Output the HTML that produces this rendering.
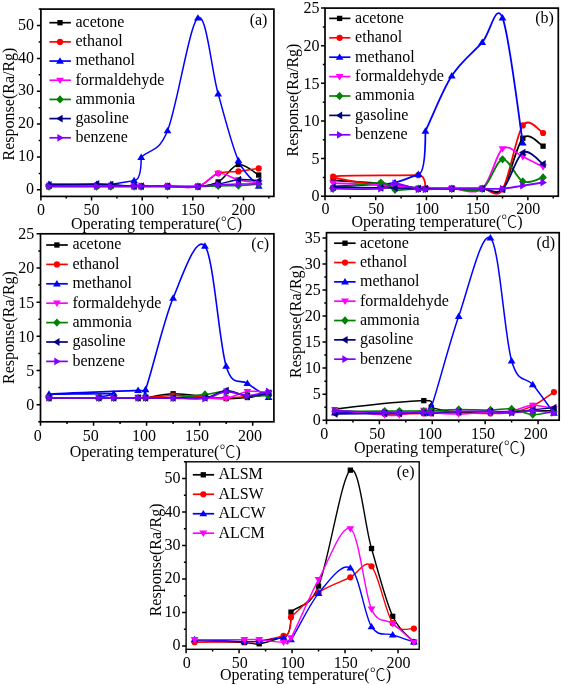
<!DOCTYPE html>
<html><head><meta charset="utf-8"><title>Response vs operating temperature</title>
<style>
html,body{margin:0;padding:0;background:#fff;}
body{width:562px;height:685px;overflow:hidden;}
svg{display:block;}
svg text{font-family:"Liberation Serif", "Noto Serif CJK SC", serif;font-size:16px;fill:#000;}
</style></head><body>
<svg width="562" height="685" viewBox="0 0 562 685">
<rect width="562" height="685" fill="#fff"/>
<path d="M49 186.21C56.94 186.21 86.32 186.21 96.62 186.21C106.92 186.21 104.55 186.21 110.8 186.21C117.05 186.21 129.03 186.21 134.1 186.21C139.17 186.21 135.62 186.21 141.19 186.21C146.76 186.21 158.08 186.16 167.53 186.21C176.99 186.27 189.48 187.25 197.92 186.54C206.36 185.83 211.43 185.61 218.18 181.94C224.94 178.27 231.69 165.68 238.44 164.53C245.2 163.38 255.33 173.29 258.7 175.04" stroke="#000000" stroke-width="1.5" fill="none"/>
<rect x="46.35" y="183.56" width="5.3" height="5.3" fill="#000000"/>
<rect x="93.97" y="183.56" width="5.3" height="5.3" fill="#000000"/>
<rect x="108.15" y="183.56" width="5.3" height="5.3" fill="#000000"/>
<rect x="131.45" y="183.56" width="5.3" height="5.3" fill="#000000"/>
<rect x="138.54" y="183.56" width="5.3" height="5.3" fill="#000000"/>
<rect x="164.88" y="183.56" width="5.3" height="5.3" fill="#000000"/>
<rect x="195.27" y="183.89" width="5.3" height="5.3" fill="#000000"/>
<rect x="215.53" y="179.29" width="5.3" height="5.3" fill="#000000"/>
<rect x="235.79" y="161.88" width="5.3" height="5.3" fill="#000000"/>
<rect x="256.05" y="172.39" width="5.3" height="5.3" fill="#000000"/>
<path d="M49 186.54C56.94 186.54 86.32 186.54 96.62 186.54C106.92 186.54 104.55 186.54 110.8 186.54C117.05 186.54 129.03 186.54 134.1 186.54C139.17 186.54 135.62 186.54 141.19 186.54C146.76 186.54 158.08 186.54 167.53 186.54C176.99 186.54 189.48 188.76 197.92 186.54C206.36 184.32 211.43 175.75 218.18 173.23C224.94 170.71 231.69 172.22 238.44 171.43C245.2 170.63 255.33 168.96 258.7 168.47" stroke="#ff0000" stroke-width="1.5" fill="none"/>
<circle cx="49" cy="186.54" r="3.1" fill="#ff0000"/>
<circle cx="96.62" cy="186.54" r="3.1" fill="#ff0000"/>
<circle cx="110.8" cy="186.54" r="3.1" fill="#ff0000"/>
<circle cx="134.1" cy="186.54" r="3.1" fill="#ff0000"/>
<circle cx="141.19" cy="186.54" r="3.1" fill="#ff0000"/>
<circle cx="167.53" cy="186.54" r="3.1" fill="#ff0000"/>
<circle cx="197.92" cy="186.54" r="3.1" fill="#ff0000"/>
<circle cx="218.18" cy="173.23" r="3.1" fill="#ff0000"/>
<circle cx="238.44" cy="171.43" r="3.1" fill="#ff0000"/>
<circle cx="258.7" cy="168.47" r="3.1" fill="#ff0000"/>
<path d="M49 184.08C56.94 184.11 86.32 184.21 96.62 184.24C106.92 184.27 104.55 184.84 110.8 184.24C117.05 183.64 126.33 181.83 134.1 180.63C139.77 180.63 141.19 170.13 141.19 157.3C149.97 148.42 158.08 153.9 167.53 130.68C176.99 107.46 189.48 24.11 197.92 17.97C206.36 11.84 211.43 70.11 218.18 93.88C224.94 117.65 231.69 145.22 238.44 160.58C245.2 175.94 255.33 181.8 258.7 186.05" stroke="#0000ff" stroke-width="1.5" fill="none"/>
<polygon points="49,180.28 52.9,186.68 45.1,186.68" fill="#0000ff"/>
<polygon points="96.62,180.44 100.52,186.84 92.72,186.84" fill="#0000ff"/>
<polygon points="110.8,180.44 114.7,186.84 106.9,186.84" fill="#0000ff"/>
<polygon points="134.1,176.83 138,183.23 130.2,183.23" fill="#0000ff"/>
<polygon points="141.19,153.5 145.09,159.9 137.29,159.9" fill="#0000ff"/>
<polygon points="167.53,126.88 171.43,133.28 163.63,133.28" fill="#0000ff"/>
<polygon points="197.92,14.17 201.82,20.57 194.02,20.57" fill="#0000ff"/>
<polygon points="218.18,90.08 222.08,96.48 214.28,96.48" fill="#0000ff"/>
<polygon points="238.44,156.78 242.34,163.18 234.54,163.18" fill="#0000ff"/>
<polygon points="258.7,182.25 262.6,188.65 254.8,188.65" fill="#0000ff"/>
<path d="M49 186.54C56.94 186.54 86.32 186.54 96.62 186.54C106.92 186.54 104.55 186.54 110.8 186.54C117.05 186.54 129.03 186.54 134.1 186.54C139.17 186.54 135.62 186.54 141.19 186.54C146.76 186.54 158.08 186.54 167.53 186.54C176.99 186.54 189.48 188.73 197.92 186.54C206.36 184.35 211.43 174.49 218.18 173.4C224.94 172.3 231.69 178.44 238.44 179.97C245.2 181.5 255.33 182.16 258.7 182.6" stroke="#ff00ff" stroke-width="1.5" fill="none"/>
<polygon points="49,190.34 52.9,183.94 45.1,183.94" fill="#ff00ff"/>
<polygon points="96.62,190.34 100.52,183.94 92.72,183.94" fill="#ff00ff"/>
<polygon points="110.8,190.34 114.7,183.94 106.9,183.94" fill="#ff00ff"/>
<polygon points="134.1,190.34 138,183.94 130.2,183.94" fill="#ff00ff"/>
<polygon points="141.19,190.34 145.09,183.94 137.29,183.94" fill="#ff00ff"/>
<polygon points="167.53,190.34 171.43,183.94 163.63,183.94" fill="#ff00ff"/>
<polygon points="197.92,190.34 201.82,183.94 194.02,183.94" fill="#ff00ff"/>
<polygon points="218.18,177.2 222.08,170.8 214.28,170.8" fill="#ff00ff"/>
<polygon points="238.44,183.77 242.34,177.37 234.54,177.37" fill="#ff00ff"/>
<polygon points="258.7,186.4 262.6,180 254.8,180" fill="#ff00ff"/>
<path d="M49 186.54C56.94 186.54 86.32 186.54 96.62 186.54C106.92 186.54 104.55 186.54 110.8 186.54C117.05 186.54 129.03 186.54 134.1 186.54C139.17 186.54 135.62 186.54 141.19 186.54C146.76 186.54 158.08 186.54 167.53 186.54C176.99 186.54 189.48 186.65 197.92 186.54C206.36 186.43 211.43 186.05 218.18 185.88C224.94 185.72 231.69 185.83 238.44 185.56C245.2 185.28 255.33 184.46 258.7 184.24" stroke="#008000" stroke-width="1.5" fill="none"/>
<polygon points="49,182.34 52.8,186.54 49,190.74 45.2,186.54" fill="#008000"/>
<polygon points="96.62,182.34 100.42,186.54 96.62,190.74 92.82,186.54" fill="#008000"/>
<polygon points="110.8,182.34 114.6,186.54 110.8,190.74 107,186.54" fill="#008000"/>
<polygon points="134.1,182.34 137.9,186.54 134.1,190.74 130.3,186.54" fill="#008000"/>
<polygon points="141.19,182.34 144.99,186.54 141.19,190.74 137.39,186.54" fill="#008000"/>
<polygon points="167.53,182.34 171.33,186.54 167.53,190.74 163.73,186.54" fill="#008000"/>
<polygon points="197.92,182.34 201.72,186.54 197.92,190.74 194.12,186.54" fill="#008000"/>
<polygon points="218.18,181.68 221.98,185.88 218.18,190.08 214.38,185.88" fill="#008000"/>
<polygon points="238.44,181.36 242.24,185.56 238.44,189.76 234.64,185.56" fill="#008000"/>
<polygon points="258.7,180.04 262.5,184.24 258.7,188.44 254.9,184.24" fill="#008000"/>
<path d="M49 184.9C56.94 184.73 86.32 183.97 96.62 183.91C106.92 183.86 104.55 184.19 110.8 184.57C117.05 184.95 129.03 185.94 134.1 186.21C139.17 186.49 135.62 186.21 141.19 186.21C146.76 186.21 158.08 186.16 167.53 186.21C176.99 186.27 189.48 186.87 197.92 186.54C206.36 186.21 211.43 185.39 218.18 184.24C224.94 183.09 231.69 180.24 238.44 179.64C245.2 179.04 255.33 180.46 258.7 180.63" stroke="#000080" stroke-width="1.5" fill="none"/>
<polygon points="45.2,184.9 51.6,181 51.6,188.8" fill="#000080"/>
<polygon points="92.82,183.91 99.22,180.01 99.22,187.81" fill="#000080"/>
<polygon points="107,184.57 113.4,180.67 113.4,188.47" fill="#000080"/>
<polygon points="130.3,186.21 136.7,182.31 136.7,190.11" fill="#000080"/>
<polygon points="137.39,186.21 143.79,182.31 143.79,190.11" fill="#000080"/>
<polygon points="163.73,186.21 170.13,182.31 170.13,190.11" fill="#000080"/>
<polygon points="194.12,186.54 200.52,182.64 200.52,190.44" fill="#000080"/>
<polygon points="214.38,184.24 220.78,180.34 220.78,188.14" fill="#000080"/>
<polygon points="234.64,179.64 241.04,175.74 241.04,183.54" fill="#000080"/>
<polygon points="254.9,180.63 261.3,176.73 261.3,184.53" fill="#000080"/>
<path d="M49 186.21C56.94 186.21 86.32 186.21 96.62 186.21C106.92 186.21 104.55 186.21 110.8 186.21C117.05 186.21 129.03 186.21 134.1 186.21C139.17 186.21 135.62 186.21 141.19 186.21C146.76 186.21 158.08 186.16 167.53 186.21C176.99 186.27 189.48 186.82 197.92 186.54C206.36 186.27 211.43 184.98 218.18 184.57C224.94 184.16 231.69 184.24 238.44 184.08C245.2 183.91 255.33 183.67 258.7 183.58" stroke="#8000ff" stroke-width="1.5" fill="none"/>
<polygon points="52.8,186.21 46.4,182.31 46.4,190.11" fill="#8000ff"/>
<polygon points="100.42,186.21 94.02,182.31 94.02,190.11" fill="#8000ff"/>
<polygon points="114.6,186.21 108.2,182.31 108.2,190.11" fill="#8000ff"/>
<polygon points="137.9,186.21 131.5,182.31 131.5,190.11" fill="#8000ff"/>
<polygon points="144.99,186.21 138.59,182.31 138.59,190.11" fill="#8000ff"/>
<polygon points="171.33,186.21 164.93,182.31 164.93,190.11" fill="#8000ff"/>
<polygon points="201.72,186.54 195.32,182.64 195.32,190.44" fill="#8000ff"/>
<polygon points="221.98,184.57 215.58,180.67 215.58,188.47" fill="#8000ff"/>
<polygon points="242.24,184.08 235.84,180.18 235.84,187.98" fill="#8000ff"/>
<polygon points="262.5,183.58 256.1,179.68 256.1,187.48" fill="#8000ff"/>
<path d="M36.9 189.83H40.9M36.9 156.97H40.9M36.9 124.11H40.9M36.9 91.25H40.9M36.9 58.39H40.9M36.9 25.53H40.9M38.7 173.4H40.9M38.7 140.54H40.9M38.7 107.68H40.9M38.7 74.82H40.9M38.7 41.96H40.9M38.7 9.1H40.9M40.9 196.4V200.4M91.55 196.4V200.4M142.2 196.4V200.4M192.86 196.4V200.4M243.51 196.4V200.4M66.23 196.4V198.6M116.88 196.4V198.6M167.53 196.4V198.6M218.18 196.4V198.6M268.83 196.4V198.6" stroke="#000" stroke-width="1.5" fill="none"/>
<rect x="40.9" y="9.1" width="233" height="187.3" fill="none" stroke="#000" stroke-width="1.7"/>
<text x="34.1" y="194.03" text-anchor="end">0</text>
<text x="34.1" y="161.17" text-anchor="end">10</text>
<text x="34.1" y="128.31" text-anchor="end">20</text>
<text x="34.1" y="95.45" text-anchor="end">30</text>
<text x="34.1" y="62.59" text-anchor="end">40</text>
<text x="34.1" y="29.73" text-anchor="end">50</text>
<text x="40.9" y="214.85" text-anchor="middle">0</text>
<text x="91.55" y="214.85" text-anchor="middle">50</text>
<text x="142.2" y="214.85" text-anchor="middle">100</text>
<text x="192.86" y="214.85" text-anchor="middle">150</text>
<text x="243.51" y="214.85" text-anchor="middle">200</text>
<path d="M49.4 22.7H70.9" stroke="#000000" stroke-width="1.7"/>
<rect x="57.35" y="20.05" width="5.3" height="5.3" fill="#000000"/>
<text x="75.5" y="27.1">acetone</text>
<path d="M49.4 41.88H70.9" stroke="#ff0000" stroke-width="1.7"/>
<circle cx="60" cy="41.88" r="3.1" fill="#ff0000"/>
<text x="75.5" y="46.28">ethanol</text>
<path d="M49.4 61.06H70.9" stroke="#0000ff" stroke-width="1.7"/>
<polygon points="60,57.26 63.9,63.66 56.1,63.66" fill="#0000ff"/>
<text x="75.5" y="65.46">methanol</text>
<path d="M49.4 80.24H70.9" stroke="#ff00ff" stroke-width="1.7"/>
<polygon points="60,84.04 63.9,77.64 56.1,77.64" fill="#ff00ff"/>
<text x="75.5" y="84.64">formaldehyde</text>
<path d="M49.4 99.42H70.9" stroke="#008000" stroke-width="1.7"/>
<polygon points="60,95.22 63.8,99.42 60,103.62 56.2,99.42" fill="#008000"/>
<text x="75.5" y="103.82">ammonia</text>
<path d="M49.4 118.6H70.9" stroke="#000080" stroke-width="1.7"/>
<polygon points="56.2,118.6 62.6,114.7 62.6,122.5" fill="#000080"/>
<text x="75.5" y="123">gasoline</text>
<path d="M49.4 137.78H70.9" stroke="#8000ff" stroke-width="1.7"/>
<polygon points="63.8,137.78 57.4,133.88 57.4,141.68" fill="#8000ff"/>
<text x="75.5" y="142.18">benzene</text>
<text x="267.4" y="24.5" text-anchor="end">(a)</text>
<text transform="translate(13.8 104) rotate(-90)" text-anchor="middle">Response(Ra/Rg)</text>
<text x="156.5" y="228.7" text-anchor="middle">Operating temperature(<tspan font-family="'Noto Sans CJK SC', sans-serif" font-weight="300">℃</tspan>)</text>
<path d="M333.11 180.4C341.06 180.9 370.48 182.66 380.79 183.41C391.1 184.16 388.73 184.1 394.99 184.91C401.25 185.73 413.25 187.67 418.32 188.3C423.39 188.93 419.84 188.61 425.42 188.68C431 188.74 442.33 188.68 451.79 188.68C461.26 188.68 473.77 188.55 482.22 188.68C490.68 188.8 495.75 197.83 502.51 189.43C509.27 181.03 516.04 145.48 522.8 138.27C529.56 131.05 539.7 144.85 543.08 146.17" stroke="#000000" stroke-width="1.8" fill="none"/>
<rect x="330.46" y="177.75" width="5.3" height="5.3" fill="#000000"/>
<rect x="378.14" y="180.76" width="5.3" height="5.3" fill="#000000"/>
<rect x="392.34" y="182.26" width="5.3" height="5.3" fill="#000000"/>
<rect x="415.67" y="185.65" width="5.3" height="5.3" fill="#000000"/>
<rect x="422.77" y="186.03" width="5.3" height="5.3" fill="#000000"/>
<rect x="449.14" y="186.03" width="5.3" height="5.3" fill="#000000"/>
<rect x="479.57" y="186.03" width="5.3" height="5.3" fill="#000000"/>
<rect x="499.86" y="186.78" width="5.3" height="5.3" fill="#000000"/>
<rect x="520.15" y="135.62" width="5.3" height="5.3" fill="#000000"/>
<rect x="540.43" y="143.52" width="5.3" height="5.3" fill="#000000"/>
<path d="M380.79 185.67C383.16 185.98 402.94 189.05 394.99 187.55C387.04 186.04 329.23 178.71 333.11 176.64C337 174.57 389.92 175.63 418.32 175.13C424 175.13 425.42 181.23 425.42 188.68C434.21 188.68 442.33 188.68 451.79 188.68C461.26 188.68 473.77 188.55 482.22 188.68C490.68 188.8 495.75 199.96 502.51 189.43C509.27 178.89 516.04 134.88 522.8 125.47C529.56 116.07 539.7 131.74 543.08 133" stroke="#ff0000" stroke-width="1.8" fill="none"/>
<circle cx="380.79" cy="185.67" r="3.1" fill="#ff0000"/>
<circle cx="394.99" cy="187.55" r="3.1" fill="#ff0000"/>
<circle cx="333.11" cy="176.64" r="3.1" fill="#ff0000"/>
<circle cx="418.32" cy="175.13" r="3.1" fill="#ff0000"/>
<circle cx="425.42" cy="188.68" r="3.1" fill="#ff0000"/>
<circle cx="451.79" cy="188.68" r="3.1" fill="#ff0000"/>
<circle cx="482.22" cy="188.68" r="3.1" fill="#ff0000"/>
<circle cx="502.51" cy="189.43" r="3.1" fill="#ff0000"/>
<circle cx="522.8" cy="125.47" r="3.1" fill="#ff0000"/>
<circle cx="543.08" cy="133" r="3.1" fill="#ff0000"/>
<path d="M333.11 186.42C341.06 186.04 370.48 184.79 380.79 184.16C391.1 183.53 388.73 184.29 394.99 182.66C401.25 181.03 410.54 177.14 418.32 174.38C424 174.38 425.42 154.91 425.42 131.12C434.21 112.68 442.33 90.61 451.79 75.82C461.26 61.02 473.77 51.99 482.22 42.33C490.68 32.68 495.75 1.1 502.51 17.88C509.27 34.66 519.42 122.15 522.8 143.01" stroke="#0000ff" stroke-width="1.8" fill="none"/>
<polygon points="333.11,182.62 337.01,189.02 329.21,189.02" fill="#0000ff"/>
<polygon points="380.79,180.36 384.69,186.76 376.89,186.76" fill="#0000ff"/>
<polygon points="394.99,178.86 398.89,185.26 391.09,185.26" fill="#0000ff"/>
<polygon points="418.32,170.58 422.22,176.98 414.42,176.98" fill="#0000ff"/>
<polygon points="425.42,127.32 429.32,133.72 421.52,133.72" fill="#0000ff"/>
<polygon points="451.79,72.02 455.69,78.42 447.89,78.42" fill="#0000ff"/>
<polygon points="482.22,38.53 486.12,44.93 478.32,44.93" fill="#0000ff"/>
<polygon points="502.51,14.08 506.41,20.48 498.61,20.48" fill="#0000ff"/>
<polygon points="522.8,139.21 526.7,145.61 518.9,145.61" fill="#0000ff"/>
<path d="M333.11 183.03C341.06 183.35 370.48 184.48 380.79 184.91C391.1 185.35 388.73 185.04 394.99 185.67C401.25 186.29 413.25 188.17 418.32 188.68C423.39 189.18 419.84 188.68 425.42 188.68C431 188.68 442.33 188.68 451.79 188.68C461.26 188.68 473.77 195.32 482.22 188.68C490.68 182.03 495.75 154.13 502.51 148.8C509.27 143.47 516.04 153.69 522.8 156.7C529.56 159.71 539.7 165.16 543.08 166.86" stroke="#ff00ff" stroke-width="1.8" fill="none"/>
<polygon points="333.11,186.83 337.01,180.43 329.21,180.43" fill="#ff00ff"/>
<polygon points="380.79,188.71 384.69,182.31 376.89,182.31" fill="#ff00ff"/>
<polygon points="394.99,189.47 398.89,183.07 391.09,183.07" fill="#ff00ff"/>
<polygon points="418.32,192.48 422.22,186.08 414.42,186.08" fill="#ff00ff"/>
<polygon points="425.42,192.48 429.32,186.08 421.52,186.08" fill="#ff00ff"/>
<polygon points="451.79,192.48 455.69,186.08 447.89,186.08" fill="#ff00ff"/>
<polygon points="482.22,192.48 486.12,186.08 478.32,186.08" fill="#ff00ff"/>
<polygon points="502.51,152.6 506.41,146.2 498.61,146.2" fill="#ff00ff"/>
<polygon points="522.8,160.5 526.7,154.1 518.9,154.1" fill="#ff00ff"/>
<polygon points="543.08,170.66 546.98,164.26 539.18,164.26" fill="#ff00ff"/>
<path d="M333.11 188.68C341.06 187.67 370.48 182.47 380.79 182.66C391.1 182.84 388.73 188.8 394.99 189.8C401.25 190.81 413.25 188.86 418.32 188.68C423.39 188.49 419.84 188.68 425.42 188.68C431 188.68 442.33 188.68 451.79 188.68C461.26 188.68 473.77 193.57 482.22 188.68C490.68 183.79 495.75 160.52 502.51 159.33C509.27 158.14 516.04 178.52 522.8 181.53C529.56 184.54 539.7 178.08 543.08 177.39" stroke="#008000" stroke-width="1.8" fill="none"/>
<polygon points="333.11,184.48 336.91,188.68 333.11,192.88 329.31,188.68" fill="#008000"/>
<polygon points="380.79,178.46 384.59,182.66 380.79,186.86 376.99,182.66" fill="#008000"/>
<polygon points="394.99,185.6 398.79,189.8 394.99,194 391.19,189.8" fill="#008000"/>
<polygon points="418.32,184.48 422.12,188.68 418.32,192.88 414.52,188.68" fill="#008000"/>
<polygon points="425.42,184.48 429.22,188.68 425.42,192.88 421.62,188.68" fill="#008000"/>
<polygon points="451.79,184.48 455.59,188.68 451.79,192.88 447.99,188.68" fill="#008000"/>
<polygon points="482.22,184.48 486.02,188.68 482.22,192.88 478.42,188.68" fill="#008000"/>
<polygon points="502.51,155.13 506.31,159.33 502.51,163.53 498.71,159.33" fill="#008000"/>
<polygon points="522.8,177.33 526.6,181.53 522.8,185.73 519,181.53" fill="#008000"/>
<polygon points="543.08,173.19 546.88,177.39 543.08,181.59 539.28,177.39" fill="#008000"/>
<path d="M333.11 187.17C341.06 187.3 370.48 187.8 380.79 187.92C391.1 188.05 388.73 187.8 394.99 187.92C401.25 188.05 413.25 188.55 418.32 188.68C423.39 188.8 419.84 188.68 425.42 188.68C431 188.68 442.33 188.68 451.79 188.68C461.26 188.68 473.77 188.55 482.22 188.68C490.68 188.8 495.75 195.45 502.51 189.43C509.27 183.41 516.04 156.8 522.8 152.56C529.56 148.32 539.7 162.09 543.08 164" stroke="#000080" stroke-width="1.8" fill="none"/>
<polygon points="329.31,187.17 335.71,183.27 335.71,191.07" fill="#000080"/>
<polygon points="376.99,187.92 383.39,184.02 383.39,191.82" fill="#000080"/>
<polygon points="391.19,187.92 397.59,184.02 397.59,191.82" fill="#000080"/>
<polygon points="414.52,188.68 420.92,184.78 420.92,192.58" fill="#000080"/>
<polygon points="421.62,188.68 428.02,184.78 428.02,192.58" fill="#000080"/>
<polygon points="447.99,188.68 454.39,184.78 454.39,192.58" fill="#000080"/>
<polygon points="478.42,188.68 484.82,184.78 484.82,192.58" fill="#000080"/>
<polygon points="498.71,189.43 505.11,185.53 505.11,193.33" fill="#000080"/>
<polygon points="519,152.56 525.4,148.66 525.4,156.46" fill="#000080"/>
<polygon points="539.28,164 545.68,160.1 545.68,167.9" fill="#000080"/>
<path d="M333.11 188.68C341.06 188.68 370.48 189.55 380.79 188.68C391.1 187.8 388.73 183.28 394.99 183.41C401.25 183.53 413.25 188.43 418.32 189.43C423.39 190.43 419.84 189.55 425.42 189.43C431 189.3 442.33 188.8 451.79 188.68C461.26 188.55 473.77 188.68 482.22 188.68C490.68 188.68 495.75 189.18 502.51 188.68C509.27 188.17 516.04 186.69 522.8 185.67C529.56 184.64 539.7 183.03 543.08 182.51" stroke="#8000ff" stroke-width="1.8" fill="none"/>
<polygon points="336.91,188.68 330.51,184.78 330.51,192.58" fill="#8000ff"/>
<polygon points="384.59,188.68 378.19,184.78 378.19,192.58" fill="#8000ff"/>
<polygon points="398.79,183.41 392.39,179.51 392.39,187.31" fill="#8000ff"/>
<polygon points="422.12,189.43 415.72,185.53 415.72,193.33" fill="#8000ff"/>
<polygon points="429.22,189.43 422.82,185.53 422.82,193.33" fill="#8000ff"/>
<polygon points="455.59,188.68 449.19,184.78 449.19,192.58" fill="#8000ff"/>
<polygon points="486.02,188.68 479.62,184.78 479.62,192.58" fill="#8000ff"/>
<polygon points="506.31,188.68 499.91,184.78 499.91,192.58" fill="#8000ff"/>
<polygon points="526.6,185.67 520.2,181.77 520.2,189.57" fill="#8000ff"/>
<polygon points="546.88,182.51 540.48,178.61 540.48,186.41" fill="#8000ff"/>
<path d="M321 196.2H325M321 158.58H325M321 120.96H325M321 83.34H325M321 45.72H325M321 8.1H325M322.8 177.39H325M322.8 139.77H325M322.8 102.15H325M322.8 64.53H325M322.8 26.91H325M325 196.2V200.2M375.72 196.2V200.2M426.43 196.2V200.2M477.15 196.2V200.2M527.87 196.2V200.2M350.36 196.2V198.4M401.08 196.2V198.4M451.79 196.2V198.4M502.51 196.2V198.4M553.23 196.2V198.4" stroke="#000" stroke-width="1.5" fill="none"/>
<rect x="325" y="8.1" width="233.3" height="188.1" fill="none" stroke="#000" stroke-width="1.7"/>
<text x="319.5" y="201.4" text-anchor="end">0</text>
<text x="319.5" y="163.78" text-anchor="end">5</text>
<text x="319.5" y="126.16" text-anchor="end">10</text>
<text x="319.5" y="88.54" text-anchor="end">15</text>
<text x="319.5" y="50.92" text-anchor="end">20</text>
<text x="319.5" y="13.3" text-anchor="end">25</text>
<text x="325.5" y="214.1" text-anchor="middle">0</text>
<text x="376.22" y="214.1" text-anchor="middle">50</text>
<text x="426.93" y="214.1" text-anchor="middle">100</text>
<text x="477.65" y="214.1" text-anchor="middle">150</text>
<text x="528.37" y="214.1" text-anchor="middle">200</text>
<path d="M329.2 18.4H350.4" stroke="#000000" stroke-width="1.7"/>
<rect x="336.95" y="15.75" width="5.3" height="5.3" fill="#000000"/>
<text x="355.1" y="22.8">acetone</text>
<path d="M329.2 37.8H350.4" stroke="#ff0000" stroke-width="1.7"/>
<circle cx="339.6" cy="37.8" r="3.1" fill="#ff0000"/>
<text x="355.1" y="42.2">ethanol</text>
<path d="M329.2 57.2H350.4" stroke="#0000ff" stroke-width="1.7"/>
<polygon points="339.6,53.4 343.5,59.8 335.7,59.8" fill="#0000ff"/>
<text x="355.1" y="61.6">methanol</text>
<path d="M329.2 76.6H350.4" stroke="#ff00ff" stroke-width="1.7"/>
<polygon points="339.6,80.4 343.5,74 335.7,74" fill="#ff00ff"/>
<text x="355.1" y="81">formaldehyde</text>
<path d="M329.2 96H350.4" stroke="#008000" stroke-width="1.7"/>
<polygon points="339.6,91.8 343.4,96 339.6,100.2 335.8,96" fill="#008000"/>
<text x="355.1" y="100.4">ammonia</text>
<path d="M329.2 115.4H350.4" stroke="#000080" stroke-width="1.7"/>
<polygon points="335.8,115.4 342.2,111.5 342.2,119.3" fill="#000080"/>
<text x="355.1" y="119.8">gasoline</text>
<path d="M329.2 134.8H350.4" stroke="#8000ff" stroke-width="1.7"/>
<polygon points="343.4,134.8 337,130.9 337,138.7" fill="#8000ff"/>
<text x="355.1" y="139.2">benzene</text>
<text x="553.9" y="23.2" text-anchor="end">(b)</text>
<text transform="translate(298 100) rotate(-90)" text-anchor="middle">Response(Ra/Rg)</text>
<text x="437.1" y="226.6" text-anchor="middle">Operating temperature(<tspan font-family="'Noto Sans CJK SC', sans-serif" font-weight="300">℃</tspan>)</text>
<path d="M48.99 397.87C57.3 397.87 88.06 397.87 98.85 397.87C109.64 397.87 107.16 397.87 113.7 397.87C120.25 397.87 132.8 397.87 138.1 397.87C143.41 397.87 139.69 398.56 145.53 397.87C151.36 397.19 163.21 394 173.11 393.77C183.02 393.54 196.1 395.71 204.94 396.51C213.78 397.3 219.09 398.39 226.16 398.56C233.23 398.73 240.3 398.37 247.38 397.53C254.45 396.69 265.06 394.17 268.6 393.5" stroke="#000000" stroke-width="1.6" fill="none"/>
<rect x="46.34" y="395.22" width="5.3" height="5.3" fill="#000000"/>
<rect x="96.2" y="395.22" width="5.3" height="5.3" fill="#000000"/>
<rect x="111.05" y="395.22" width="5.3" height="5.3" fill="#000000"/>
<rect x="135.45" y="395.22" width="5.3" height="5.3" fill="#000000"/>
<rect x="142.88" y="395.22" width="5.3" height="5.3" fill="#000000"/>
<rect x="170.46" y="391.12" width="5.3" height="5.3" fill="#000000"/>
<rect x="202.29" y="393.86" width="5.3" height="5.3" fill="#000000"/>
<rect x="223.51" y="395.91" width="5.3" height="5.3" fill="#000000"/>
<rect x="244.73" y="394.88" width="5.3" height="5.3" fill="#000000"/>
<rect x="265.95" y="390.85" width="5.3" height="5.3" fill="#000000"/>
<path d="M48.99 397.87C57.3 397.87 88.06 397.87 98.85 397.87C109.64 397.87 107.16 397.87 113.7 397.87C120.25 397.87 132.8 397.87 138.1 397.87C143.41 397.87 139.69 398.27 145.53 397.87C151.36 397.47 163.21 395.59 173.11 395.48C183.02 395.37 196.1 396.79 204.94 397.19C213.78 397.59 219.09 397.99 226.16 397.87C233.23 397.76 240.3 397.08 247.38 396.51C254.45 395.94 265.06 394.8 268.6 394.45" stroke="#ff0000" stroke-width="1.6" fill="none"/>
<circle cx="48.99" cy="397.87" r="3.1" fill="#ff0000"/>
<circle cx="98.85" cy="397.87" r="3.1" fill="#ff0000"/>
<circle cx="113.7" cy="397.87" r="3.1" fill="#ff0000"/>
<circle cx="138.1" cy="397.87" r="3.1" fill="#ff0000"/>
<circle cx="145.53" cy="397.87" r="3.1" fill="#ff0000"/>
<circle cx="173.11" cy="395.48" r="3.1" fill="#ff0000"/>
<circle cx="204.94" cy="397.19" r="3.1" fill="#ff0000"/>
<circle cx="226.16" cy="397.87" r="3.1" fill="#ff0000"/>
<circle cx="247.38" cy="396.51" r="3.1" fill="#ff0000"/>
<circle cx="268.6" cy="394.45" r="3.1" fill="#ff0000"/>
<path d="M98.85 396.92C101.33 396.39 122.01 394.24 113.7 393.77C105.39 393.3 44.92 394.68 48.99 394.11C53.05 393.54 122.01 391.09 138.1 390.35C154.19 389.61 139.69 405.05 145.53 389.67C151.36 374.29 163.21 321.99 173.11 298.06C183.02 274.13 196.1 234.76 204.94 246.11C213.78 257.45 219.09 343.28 226.16 366.15C233.23 389.02 240.3 378.09 247.38 383.31C254.45 388.53 265.06 395.1 268.6 397.46" stroke="#0000ff" stroke-width="1.6" fill="none"/>
<polygon points="98.85,393.12 102.75,399.52 94.95,399.52" fill="#0000ff"/>
<polygon points="113.7,389.97 117.6,396.37 109.8,396.37" fill="#0000ff"/>
<polygon points="48.99,390.31 52.89,396.71 45.09,396.71" fill="#0000ff"/>
<polygon points="138.1,386.55 142,392.95 134.2,392.95" fill="#0000ff"/>
<polygon points="145.53,385.87 149.43,392.27 141.63,392.27" fill="#0000ff"/>
<polygon points="173.11,294.26 177.01,300.66 169.21,300.66" fill="#0000ff"/>
<polygon points="204.94,242.31 208.84,248.71 201.04,248.71" fill="#0000ff"/>
<polygon points="226.16,362.35 230.06,368.75 222.26,368.75" fill="#0000ff"/>
<polygon points="247.38,379.51 251.28,385.91 243.48,385.91" fill="#0000ff"/>
<polygon points="268.6,393.66 272.5,400.06 264.7,400.06" fill="#0000ff"/>
<path d="M48.99 397.87C57.3 397.87 88.06 397.87 98.85 397.87C109.64 397.87 107.16 397.87 113.7 397.87C120.25 397.87 132.8 397.87 138.1 397.87C143.41 397.87 139.69 397.87 145.53 397.87C151.36 397.87 163.21 397.87 173.11 397.87C183.02 397.87 196.1 397.76 204.94 397.87C213.78 397.99 219.09 399.62 226.16 398.56C233.23 397.5 240.3 392.52 247.38 391.51C254.45 390.51 265.06 392.37 268.6 392.54" stroke="#ff00ff" stroke-width="1.6" fill="none"/>
<polygon points="48.99,401.67 52.89,395.27 45.09,395.27" fill="#ff00ff"/>
<polygon points="98.85,401.67 102.75,395.27 94.95,395.27" fill="#ff00ff"/>
<polygon points="113.7,401.67 117.6,395.27 109.8,395.27" fill="#ff00ff"/>
<polygon points="138.1,401.67 142,395.27 134.2,395.27" fill="#ff00ff"/>
<polygon points="145.53,401.67 149.43,395.27 141.63,395.27" fill="#ff00ff"/>
<polygon points="173.11,401.67 177.01,395.27 169.21,395.27" fill="#ff00ff"/>
<polygon points="204.94,401.67 208.84,395.27 201.04,395.27" fill="#ff00ff"/>
<polygon points="226.16,402.36 230.06,395.96 222.26,395.96" fill="#ff00ff"/>
<polygon points="247.38,395.31 251.28,388.91 243.48,388.91" fill="#ff00ff"/>
<polygon points="268.6,396.34 272.5,389.94 264.7,389.94" fill="#ff00ff"/>
<path d="M48.99 397.87C57.3 397.87 88.06 397.87 98.85 397.87C109.64 397.87 107.16 397.87 113.7 397.87C120.25 397.87 132.8 397.87 138.1 397.87C143.41 397.87 139.69 397.87 145.53 397.87C151.36 397.87 163.21 398.44 173.11 397.87C183.02 397.3 196.1 395.51 204.94 394.45C213.78 393.39 219.09 391.33 226.16 391.51C233.23 391.7 240.3 394.88 247.38 395.55C254.45 396.22 265.06 395.55 268.6 395.55" stroke="#008000" stroke-width="1.6" fill="none"/>
<polygon points="48.99,393.67 52.79,397.87 48.99,402.07 45.19,397.87" fill="#008000"/>
<polygon points="98.85,393.67 102.65,397.87 98.85,402.07 95.05,397.87" fill="#008000"/>
<polygon points="113.7,393.67 117.5,397.87 113.7,402.07 109.9,397.87" fill="#008000"/>
<polygon points="138.1,393.67 141.9,397.87 138.1,402.07 134.3,397.87" fill="#008000"/>
<polygon points="145.53,393.67 149.33,397.87 145.53,402.07 141.73,397.87" fill="#008000"/>
<polygon points="173.11,393.67 176.91,397.87 173.11,402.07 169.31,397.87" fill="#008000"/>
<polygon points="204.94,390.25 208.74,394.45 204.94,398.65 201.14,394.45" fill="#008000"/>
<polygon points="226.16,387.31 229.96,391.51 226.16,395.71 222.36,391.51" fill="#008000"/>
<polygon points="247.38,391.35 251.18,395.55 247.38,399.75 243.58,395.55" fill="#008000"/>
<polygon points="268.6,391.35 272.4,395.55 268.6,399.75 264.8,395.55" fill="#008000"/>
<path d="M48.99 397.87C57.3 397.87 88.06 397.87 98.85 397.87C109.64 397.87 107.16 397.87 113.7 397.87C120.25 397.87 132.8 397.87 138.1 397.87C143.41 397.87 139.69 397.87 145.53 397.87C151.36 397.87 163.21 397.87 173.11 397.87C183.02 397.87 196.1 399.09 204.94 397.87C213.78 396.65 219.09 390.84 226.16 390.56C233.23 390.27 240.3 395.74 247.38 396.16C254.45 396.59 265.06 393.6 268.6 393.09" stroke="#000080" stroke-width="1.6" fill="none"/>
<polygon points="45.19,397.87 51.59,393.97 51.59,401.77" fill="#000080"/>
<polygon points="95.05,397.87 101.45,393.97 101.45,401.77" fill="#000080"/>
<polygon points="109.9,397.87 116.3,393.97 116.3,401.77" fill="#000080"/>
<polygon points="134.3,397.87 140.7,393.97 140.7,401.77" fill="#000080"/>
<polygon points="141.73,397.87 148.13,393.97 148.13,401.77" fill="#000080"/>
<polygon points="169.31,397.87 175.71,393.97 175.71,401.77" fill="#000080"/>
<polygon points="201.14,397.87 207.54,393.97 207.54,401.77" fill="#000080"/>
<polygon points="222.36,390.56 228.76,386.66 228.76,394.46" fill="#000080"/>
<polygon points="243.58,396.16 249.98,392.26 249.98,400.06" fill="#000080"/>
<polygon points="264.8,393.09 271.2,389.19 271.2,396.99" fill="#000080"/>
<path d="M48.99 397.87C57.3 397.87 88.06 397.87 98.85 397.87C109.64 397.87 107.16 397.87 113.7 397.87C120.25 397.87 132.8 397.87 138.1 397.87C143.41 397.87 139.69 397.83 145.53 397.87C151.36 397.92 163.21 398.03 173.11 398.15C183.02 398.26 196.1 399.63 204.94 398.56C213.78 397.49 219.09 392.22 226.16 391.72C233.23 391.22 240.3 395.58 247.38 395.55C254.45 395.51 265.06 392.19 268.6 391.51" stroke="#8000ff" stroke-width="1.6" fill="none"/>
<polygon points="52.79,397.87 46.39,393.97 46.39,401.77" fill="#8000ff"/>
<polygon points="102.65,397.87 96.25,393.97 96.25,401.77" fill="#8000ff"/>
<polygon points="117.5,397.87 111.1,393.97 111.1,401.77" fill="#8000ff"/>
<polygon points="141.9,397.87 135.5,393.97 135.5,401.77" fill="#8000ff"/>
<polygon points="149.33,397.87 142.93,393.97 142.93,401.77" fill="#8000ff"/>
<polygon points="176.91,398.15 170.51,394.25 170.51,402.05" fill="#8000ff"/>
<polygon points="208.74,398.56 202.34,394.66 202.34,402.46" fill="#8000ff"/>
<polygon points="229.96,391.72 223.56,387.82 223.56,395.62" fill="#8000ff"/>
<polygon points="251.18,395.55 244.78,391.65 244.78,399.45" fill="#8000ff"/>
<polygon points="272.4,391.51 266,387.61 266,395.41" fill="#8000ff"/>
<path d="M36.5 404.71H40.5M36.5 370.53H40.5M36.5 336.35H40.5M36.5 302.16H40.5M36.5 267.98H40.5M36.5 233.8H40.5M38.3 421.8H40.5M38.3 387.62H40.5M38.3 353.44H40.5M38.3 319.25H40.5M38.3 285.07H40.5M38.3 250.89H40.5M40.5 421.8V425.8M93.55 421.8V425.8M146.59 421.8V425.8M199.64 421.8V425.8M252.68 421.8V425.8M67.02 421.8V424M120.07 421.8V424M173.11 421.8V424M226.16 421.8V424" stroke="#000" stroke-width="1.5" fill="none"/>
<rect x="40.5" y="233.8" width="233.4" height="188" fill="none" stroke="#000" stroke-width="1.7"/>
<text x="34.3" y="410.11" text-anchor="end">0</text>
<text x="34.3" y="375.93" text-anchor="end">5</text>
<text x="34.3" y="341.75" text-anchor="end">10</text>
<text x="34.3" y="307.56" text-anchor="end">15</text>
<text x="34.3" y="273.38" text-anchor="end">20</text>
<text x="34.3" y="239.2" text-anchor="end">25</text>
<text x="37.8" y="441.45" text-anchor="middle">0</text>
<text x="90.85" y="441.45" text-anchor="middle">50</text>
<text x="143.89" y="441.45" text-anchor="middle">100</text>
<text x="196.94" y="441.45" text-anchor="middle">150</text>
<text x="249.98" y="441.45" text-anchor="middle">200</text>
<path d="M46.2 245H67.8" stroke="#000000" stroke-width="1.7"/>
<rect x="54.25" y="242.35" width="5.3" height="5.3" fill="#000000"/>
<text x="72.4" y="249.4">acetone</text>
<path d="M46.2 264.4H67.8" stroke="#ff0000" stroke-width="1.7"/>
<circle cx="56.9" cy="264.4" r="3.1" fill="#ff0000"/>
<text x="72.4" y="268.8">ethanol</text>
<path d="M46.2 283.8H67.8" stroke="#0000ff" stroke-width="1.7"/>
<polygon points="56.9,280 60.8,286.4 53,286.4" fill="#0000ff"/>
<text x="72.4" y="288.2">methanol</text>
<path d="M46.2 303.2H67.8" stroke="#ff00ff" stroke-width="1.7"/>
<polygon points="56.9,307 60.8,300.6 53,300.6" fill="#ff00ff"/>
<text x="72.4" y="307.6">formaldehyde</text>
<path d="M46.2 322.6H67.8" stroke="#008000" stroke-width="1.7"/>
<polygon points="56.9,318.4 60.7,322.6 56.9,326.8 53.1,322.6" fill="#008000"/>
<text x="72.4" y="327">ammonia</text>
<path d="M46.2 342H67.8" stroke="#000080" stroke-width="1.7"/>
<polygon points="53.1,342 59.5,338.1 59.5,345.9" fill="#000080"/>
<text x="72.4" y="346.4">gasoline</text>
<path d="M46.2 361.4H67.8" stroke="#8000ff" stroke-width="1.7"/>
<polygon points="60.7,361.4 54.3,357.5 54.3,365.3" fill="#8000ff"/>
<text x="72.4" y="365.8">benzene</text>
<text x="269.1" y="249" text-anchor="end">(c)</text>
<text transform="translate(14.3 327.5) rotate(-90)" text-anchor="middle">Response(Ra/Rg)</text>
<text x="155.2" y="457.3" text-anchor="middle">Operating temperature(<tspan font-family="'Noto Sans CJK SC', sans-serif" font-weight="300">℃</tspan>)</text>
<path d="M384.68 413.43C387.14 413.34 407.77 413.52 399.48 412.91C391.2 412.3 330.91 411.83 334.96 409.78C339.02 407.73 407.77 401.02 423.81 400.62C439.85 400.22 425.4 405.51 431.22 407.39C437.03 409.26 448.84 411.12 458.72 411.87C468.59 412.61 481.63 411.87 490.45 411.87C499.26 411.87 504.55 412.04 511.6 411.87C518.65 411.69 525.71 411 532.76 410.82C539.81 410.65 550.39 410.82 553.91 410.82" stroke="#000000" stroke-width="1.5" fill="none"/>
<rect x="382.03" y="410.78" width="5.3" height="5.3" fill="#000000"/>
<rect x="396.83" y="410.26" width="5.3" height="5.3" fill="#000000"/>
<rect x="332.31" y="407.13" width="5.3" height="5.3" fill="#000000"/>
<rect x="421.16" y="397.97" width="5.3" height="5.3" fill="#000000"/>
<rect x="428.57" y="404.74" width="5.3" height="5.3" fill="#000000"/>
<rect x="456.07" y="409.22" width="5.3" height="5.3" fill="#000000"/>
<rect x="487.8" y="409.22" width="5.3" height="5.3" fill="#000000"/>
<rect x="508.95" y="409.22" width="5.3" height="5.3" fill="#000000"/>
<rect x="530.11" y="408.18" width="5.3" height="5.3" fill="#000000"/>
<rect x="551.26" y="408.18" width="5.3" height="5.3" fill="#000000"/>
<path d="M334.96 411.87C343.25 412.21 373.92 413.6 384.68 413.95C395.43 414.3 392.96 414.04 399.48 413.95C406.01 413.86 418.52 413.52 423.81 413.43C429.1 413.34 425.4 413.52 431.22 413.43C437.03 413.34 448.84 412.91 458.72 412.91C468.59 412.91 481.63 413.52 490.45 413.43C499.26 413.34 504.55 413.65 511.6 412.39C518.65 411.13 525.71 409.26 532.76 405.88C539.81 402.49 550.39 394.38 553.91 392.07" stroke="#ff0000" stroke-width="1.5" fill="none"/>
<circle cx="334.96" cy="411.87" r="3.1" fill="#ff0000"/>
<circle cx="384.68" cy="413.95" r="3.1" fill="#ff0000"/>
<circle cx="399.48" cy="413.95" r="3.1" fill="#ff0000"/>
<circle cx="423.81" cy="413.43" r="3.1" fill="#ff0000"/>
<circle cx="431.22" cy="413.43" r="3.1" fill="#ff0000"/>
<circle cx="458.72" cy="412.91" r="3.1" fill="#ff0000"/>
<circle cx="490.45" cy="413.43" r="3.1" fill="#ff0000"/>
<circle cx="511.6" cy="412.39" r="3.1" fill="#ff0000"/>
<circle cx="532.76" cy="405.88" r="3.1" fill="#ff0000"/>
<circle cx="553.91" cy="392.07" r="3.1" fill="#ff0000"/>
<path d="M334.96 412.91C343.25 412.82 373.92 412.47 384.68 412.39C395.43 412.3 392.96 412.47 399.48 412.39C406.01 412.3 418.52 412.7 423.81 411.87C429.1 411.03 425.4 423.32 431.22 407.39C437.03 391.46 448.84 344.54 458.72 316.29C468.59 288.05 481.63 230.49 490.45 237.91C499.26 245.33 504.55 336.38 511.6 360.82C518.65 385.27 525.71 375.85 532.76 384.57C539.81 393.3 550.39 408.4 553.91 413.17" stroke="#0000ff" stroke-width="1.5" fill="none"/>
<polygon points="334.96,409.11 338.86,415.51 331.06,415.51" fill="#0000ff"/>
<polygon points="384.68,408.59 388.57,414.99 380.78,414.99" fill="#0000ff"/>
<polygon points="399.48,408.59 403.38,414.99 395.58,414.99" fill="#0000ff"/>
<polygon points="423.81,408.07 427.71,414.47 419.91,414.47" fill="#0000ff"/>
<polygon points="431.22,403.59 435.12,409.99 427.32,409.99" fill="#0000ff"/>
<polygon points="458.72,312.49 462.62,318.89 454.82,318.89" fill="#0000ff"/>
<polygon points="490.45,234.11 494.35,240.51 486.55,240.51" fill="#0000ff"/>
<polygon points="511.6,357.02 515.5,363.43 507.7,363.43" fill="#0000ff"/>
<polygon points="532.76,380.77 536.66,387.18 528.86,387.18" fill="#0000ff"/>
<polygon points="553.91,409.37 557.81,415.77 550.01,415.77" fill="#0000ff"/>
<path d="M334.96 409.78C343.25 410.65 373.92 414.12 384.68 414.99C395.43 415.86 392.96 415.77 399.48 414.99C406.01 414.21 418.52 410.74 423.81 410.3C429.1 409.87 425.4 411.78 431.22 412.39C437.03 413 448.84 414.04 458.72 413.95C468.59 413.86 481.63 412.39 490.45 411.87C499.26 411.35 504.55 411.91 511.6 410.82C518.65 409.74 525.71 405.7 532.76 405.36C539.81 405.01 550.39 408.18 553.91 408.74" stroke="#ff00ff" stroke-width="1.5" fill="none"/>
<polygon points="334.96,413.58 338.86,407.18 331.06,407.18" fill="#ff00ff"/>
<polygon points="384.68,418.79 388.57,412.39 380.78,412.39" fill="#ff00ff"/>
<polygon points="399.48,418.79 403.38,412.39 395.58,412.39" fill="#ff00ff"/>
<polygon points="423.81,414.1 427.71,407.7 419.91,407.7" fill="#ff00ff"/>
<polygon points="431.22,416.19 435.12,409.79 427.32,409.79" fill="#ff00ff"/>
<polygon points="458.72,417.75 462.62,411.35 454.82,411.35" fill="#ff00ff"/>
<polygon points="490.45,415.67 494.35,409.27 486.55,409.27" fill="#ff00ff"/>
<polygon points="511.6,414.62 515.5,408.22 507.7,408.22" fill="#ff00ff"/>
<polygon points="532.76,409.16 536.66,402.76 528.86,402.76" fill="#ff00ff"/>
<polygon points="553.91,412.54 557.81,406.14 550.01,406.14" fill="#ff00ff"/>
<path d="M334.96 411.35C343.25 411.3 373.92 411.13 384.68 411.09C395.43 411.04 392.96 411.09 399.48 411.09C406.01 411.09 418.52 411.13 423.81 411.09C429.1 411.04 425.4 411.09 431.22 410.82C437.03 410.56 448.84 409.65 458.72 409.52C468.59 409.39 481.63 410.13 490.45 410.04C499.26 409.96 504.55 408.26 511.6 409C518.65 409.74 525.71 414.08 532.76 414.47C539.81 414.86 550.39 411.87 553.91 411.35" stroke="#008000" stroke-width="1.5" fill="none"/>
<polygon points="334.96,407.15 338.76,411.35 334.96,415.55 331.16,411.35" fill="#008000"/>
<polygon points="384.68,406.89 388.48,411.09 384.68,415.29 380.88,411.09" fill="#008000"/>
<polygon points="399.48,406.89 403.28,411.09 399.48,415.29 395.68,411.09" fill="#008000"/>
<polygon points="423.81,406.89 427.61,411.09 423.81,415.29 420.01,411.09" fill="#008000"/>
<polygon points="431.22,406.62 435.02,410.82 431.22,415.02 427.42,410.82" fill="#008000"/>
<polygon points="458.72,405.32 462.52,409.52 458.72,413.72 454.92,409.52" fill="#008000"/>
<polygon points="490.45,405.84 494.25,410.04 490.45,414.24 486.65,410.04" fill="#008000"/>
<polygon points="511.6,404.8 515.4,409 511.6,413.2 507.8,409" fill="#008000"/>
<polygon points="532.76,410.27 536.56,414.47 532.76,418.67 528.96,414.47" fill="#008000"/>
<polygon points="553.91,407.15 557.71,411.35 553.91,415.55 550.11,411.35" fill="#008000"/>
<path d="M334.96 413.95C343.25 413.86 373.92 413.52 384.68 413.43C395.43 413.34 392.96 413.52 399.48 413.43C406.01 413.34 418.52 413 423.81 412.91C429.1 412.82 425.4 413.08 431.22 412.91C437.03 412.73 448.84 412.13 458.72 411.87C468.59 411.61 481.63 411.26 490.45 411.35C499.26 411.43 504.55 412.65 511.6 412.39C518.65 412.13 525.71 410.56 532.76 409.78C539.81 409 550.39 408.05 553.91 407.7" stroke="#000080" stroke-width="1.5" fill="none"/>
<polygon points="331.16,413.95 337.56,410.05 337.56,417.85" fill="#000080"/>
<polygon points="380.88,413.43 387.28,409.53 387.28,417.33" fill="#000080"/>
<polygon points="395.68,413.43 402.08,409.53 402.08,417.33" fill="#000080"/>
<polygon points="420.01,412.91 426.41,409.01 426.41,416.81" fill="#000080"/>
<polygon points="427.42,412.91 433.82,409.01 433.82,416.81" fill="#000080"/>
<polygon points="454.92,411.87 461.32,407.97 461.32,415.77" fill="#000080"/>
<polygon points="486.65,411.35 493.05,407.45 493.05,415.25" fill="#000080"/>
<polygon points="507.8,412.39 514.2,408.49 514.2,416.29" fill="#000080"/>
<polygon points="528.96,409.78 535.36,405.88 535.36,413.68" fill="#000080"/>
<polygon points="550.11,407.7 556.51,403.8 556.51,411.6" fill="#000080"/>
<path d="M334.96 410.82C343.25 411.09 373.92 412.13 384.68 412.39C395.43 412.65 392.96 412.39 399.48 412.39C406.01 412.39 418.52 412.39 423.81 412.39C429.1 412.39 425.4 412.56 431.22 412.39C437.03 412.21 448.84 411.48 458.72 411.35C468.59 411.22 481.63 411.35 490.45 411.61C499.26 411.87 504.55 413.04 511.6 412.91C518.65 412.78 525.71 410.82 532.76 410.82C539.81 410.82 550.39 412.56 553.91 412.91" stroke="#8000ff" stroke-width="1.5" fill="none"/>
<polygon points="338.76,410.82 332.36,406.93 332.36,414.72" fill="#8000ff"/>
<polygon points="388.48,412.39 382.07,408.49 382.07,416.29" fill="#8000ff"/>
<polygon points="403.28,412.39 396.88,408.49 396.88,416.29" fill="#8000ff"/>
<polygon points="427.61,412.39 421.21,408.49 421.21,416.29" fill="#8000ff"/>
<polygon points="435.02,412.39 428.62,408.49 428.62,416.29" fill="#8000ff"/>
<polygon points="462.52,411.35 456.12,407.45 456.12,415.25" fill="#8000ff"/>
<polygon points="494.25,411.61 487.85,407.71 487.85,415.51" fill="#8000ff"/>
<polygon points="515.4,412.91 509,409.01 509,416.81" fill="#8000ff"/>
<polygon points="536.56,410.82 530.16,406.93 530.16,414.72" fill="#8000ff"/>
<polygon points="557.71,412.91 551.31,409.01 551.31,416.81" fill="#8000ff"/>
<path d="M322.5 420.2H326.5M322.5 394.16H326.5M322.5 368.12H326.5M322.5 342.07H326.5M322.5 316.03H326.5M322.5 289.99H326.5M322.5 263.95H326.5M322.5 237.91H326.5M324.3 407.18H326.5M324.3 381.14H326.5M324.3 355.1H326.5M324.3 329.05H326.5M324.3 303.01H326.5M324.3 276.97H326.5M324.3 250.93H326.5M326.5 420.2V424.2M379.39 420.2V424.2M432.27 420.2V424.2M485.16 420.2V424.2M538.05 420.2V424.2M352.94 420.2V422.4M405.83 420.2V422.4M458.72 420.2V422.4M511.6 420.2V422.4" stroke="#000" stroke-width="1.5" fill="none"/>
<rect x="326.5" y="232.7" width="232.7" height="187.5" fill="none" stroke="#000" stroke-width="1.7"/>
<text x="320.7" y="424.8" text-anchor="end">0</text>
<text x="320.7" y="398.76" text-anchor="end">5</text>
<text x="320.7" y="372.72" text-anchor="end">10</text>
<text x="320.7" y="346.68" text-anchor="end">15</text>
<text x="320.7" y="320.63" text-anchor="end">20</text>
<text x="320.7" y="294.59" text-anchor="end">25</text>
<text x="320.7" y="268.55" text-anchor="end">30</text>
<text x="320.7" y="242.51" text-anchor="end">35</text>
<text x="324.3" y="438.9" text-anchor="middle">0</text>
<text x="377.19" y="438.9" text-anchor="middle">50</text>
<text x="430.07" y="438.9" text-anchor="middle">100</text>
<text x="482.96" y="438.9" text-anchor="middle">150</text>
<text x="535.85" y="438.9" text-anchor="middle">200</text>
<path d="M334.1 243.2H355.6" stroke="#000000" stroke-width="1.7"/>
<rect x="342.35" y="240.55" width="5.3" height="5.3" fill="#000000"/>
<text x="360" y="247.6">acetone</text>
<path d="M334.1 262.53H355.6" stroke="#ff0000" stroke-width="1.7"/>
<circle cx="345" cy="262.53" r="3.1" fill="#ff0000"/>
<text x="360" y="266.93">ethanol</text>
<path d="M334.1 281.86H355.6" stroke="#0000ff" stroke-width="1.7"/>
<polygon points="345,278.06 348.9,284.46 341.1,284.46" fill="#0000ff"/>
<text x="360" y="286.26">methanol</text>
<path d="M334.1 301.19H355.6" stroke="#ff00ff" stroke-width="1.7"/>
<polygon points="345,304.99 348.9,298.59 341.1,298.59" fill="#ff00ff"/>
<text x="360" y="305.59">formaldehyde</text>
<path d="M334.1 320.52H355.6" stroke="#008000" stroke-width="1.7"/>
<polygon points="345,316.32 348.8,320.52 345,324.72 341.2,320.52" fill="#008000"/>
<text x="360" y="324.92">ammonia</text>
<path d="M334.1 339.85H355.6" stroke="#000080" stroke-width="1.7"/>
<polygon points="341.2,339.85 347.6,335.95 347.6,343.75" fill="#000080"/>
<text x="360" y="344.25">gasoline</text>
<path d="M334.1 359.18H355.6" stroke="#8000ff" stroke-width="1.7"/>
<polygon points="348.8,359.18 342.4,355.28 342.4,363.08" fill="#8000ff"/>
<text x="360" y="363.58">benzene</text>
<text x="555.2" y="248" text-anchor="end">(d)</text>
<text transform="translate(300.5 321.5) rotate(-90)" text-anchor="middle">Response(Ra/Rg)</text>
<text x="439.5" y="452.7" text-anchor="middle">Operating temperature(<tspan font-family="'Noto Sans CJK SC', sans-serif" font-weight="300">℃</tspan>)</text>
<path d="M194.58 640.59C202.88 640.93 233.6 642.07 244.38 642.6C255.15 643.13 252.67 644.72 259.21 643.78C265.74 642.83 275.45 639.2 283.58 636.91C289.51 636.91 291 625.76 291 612.13C300.18 603.43 308.65 609.68 318.54 586.02C328.43 562.36 341.5 476.42 350.33 470.17C359.16 463.92 364.46 524.16 371.52 548.52C378.58 572.88 385.65 600.75 392.71 616.32C399.78 631.89 410.37 637.66 413.9 641.93" stroke="#000000" stroke-width="1.4" fill="none"/>
<rect x="191.93" y="637.94" width="5.3" height="5.3" fill="#000000"/>
<rect x="241.72" y="639.95" width="5.3" height="5.3" fill="#000000"/>
<rect x="256.56" y="641.13" width="5.3" height="5.3" fill="#000000"/>
<rect x="280.93" y="634.26" width="5.3" height="5.3" fill="#000000"/>
<rect x="288.35" y="609.48" width="5.3" height="5.3" fill="#000000"/>
<rect x="315.89" y="583.37" width="5.3" height="5.3" fill="#000000"/>
<rect x="347.68" y="467.52" width="5.3" height="5.3" fill="#000000"/>
<rect x="368.87" y="545.87" width="5.3" height="5.3" fill="#000000"/>
<rect x="390.06" y="613.67" width="5.3" height="5.3" fill="#000000"/>
<rect x="411.25" y="639.28" width="5.3" height="5.3" fill="#000000"/>
<path d="M194.58 642.27C202.88 642.16 233.6 641.77 244.38 641.6C255.15 641.43 252.67 642.21 259.21 641.26C265.74 640.32 275.45 637.69 283.58 635.91C289.51 635.91 291 627.47 291 617.16C300.18 608.9 308.65 599.02 318.54 592.38C328.43 585.74 341.5 581.67 350.33 577.31C359.16 572.96 364.46 558.62 371.52 566.26C378.58 573.91 385.65 612.8 392.71 623.18C399.78 633.56 410.37 627.65 413.9 628.54" stroke="#ff0000" stroke-width="1.4" fill="none"/>
<circle cx="194.58" cy="642.27" r="3.1" fill="#ff0000"/>
<circle cx="244.38" cy="641.6" r="3.1" fill="#ff0000"/>
<circle cx="259.21" cy="641.26" r="3.1" fill="#ff0000"/>
<circle cx="283.58" cy="635.91" r="3.1" fill="#ff0000"/>
<circle cx="291" cy="617.16" r="3.1" fill="#ff0000"/>
<circle cx="318.54" cy="592.38" r="3.1" fill="#ff0000"/>
<circle cx="350.33" cy="577.31" r="3.1" fill="#ff0000"/>
<circle cx="371.52" cy="566.26" r="3.1" fill="#ff0000"/>
<circle cx="392.71" cy="623.18" r="3.1" fill="#ff0000"/>
<circle cx="413.9" cy="628.54" r="3.1" fill="#ff0000"/>
<path d="M194.58 639.59C202.88 639.92 233.6 641.38 244.38 641.6C255.15 641.82 252.67 641.54 259.21 640.93C265.74 640.32 278.28 638.14 283.58 637.92C288.88 637.69 285.17 647.01 291 639.59C296.82 632.17 308.65 605.33 318.54 593.38C328.43 581.44 341.5 562.39 350.33 567.94C359.16 573.49 364.46 615.54 371.52 626.7C378.58 637.86 385.65 632.36 392.71 634.9C399.78 637.44 410.37 640.76 413.9 641.93" stroke="#0000ff" stroke-width="1.4" fill="none"/>
<polygon points="194.58,635.79 198.48,642.19 190.68,642.19" fill="#0000ff"/>
<polygon points="244.38,637.8 248.28,644.2 240.47,644.2" fill="#0000ff"/>
<polygon points="259.21,637.13 263.11,643.53 255.31,643.53" fill="#0000ff"/>
<polygon points="283.58,634.12 287.48,640.52 279.68,640.52" fill="#0000ff"/>
<polygon points="291,635.79 294.89,642.19 287.1,642.19" fill="#0000ff"/>
<polygon points="318.54,589.58 322.44,595.98 314.64,595.98" fill="#0000ff"/>
<polygon points="350.33,564.14 354.23,570.54 346.43,570.54" fill="#0000ff"/>
<polygon points="371.52,622.9 375.42,629.3 367.62,629.3" fill="#0000ff"/>
<polygon points="392.71,631.1 396.61,637.5 388.81,637.5" fill="#0000ff"/>
<polygon points="413.9,638.13 417.8,644.53 410,644.53" fill="#0000ff"/>
<path d="M194.58 639.59C202.88 639.59 233.6 639.59 244.38 639.59C255.15 639.59 252.67 639.14 259.21 639.59C265.74 640.04 278.28 642.55 283.58 642.27C288.88 641.99 285.17 648.35 291 637.92C296.82 627.48 308.65 597.85 318.54 579.66C328.43 561.47 341.5 523.85 350.33 528.76C359.16 533.67 364.46 593.33 371.52 609.12C378.58 624.91 385.65 617.99 392.71 623.52C399.78 629.04 410.37 639.14 413.9 642.27" stroke="#ff00ff" stroke-width="1.4" fill="none"/>
<polygon points="194.58,643.39 198.48,636.99 190.68,636.99" fill="#ff00ff"/>
<polygon points="244.38,643.39 248.28,636.99 240.47,636.99" fill="#ff00ff"/>
<polygon points="259.21,643.39 263.11,636.99 255.31,636.99" fill="#ff00ff"/>
<polygon points="283.58,646.07 287.48,639.67 279.68,639.67" fill="#ff00ff"/>
<polygon points="291,641.72 294.89,635.32 287.1,635.32" fill="#ff00ff"/>
<polygon points="318.54,583.46 322.44,577.06 314.64,577.06" fill="#ff00ff"/>
<polygon points="350.33,532.56 354.23,526.16 346.43,526.16" fill="#ff00ff"/>
<polygon points="371.52,612.92 375.42,606.52 367.62,606.52" fill="#ff00ff"/>
<polygon points="392.71,627.32 396.61,620.92 388.81,620.92" fill="#ff00ff"/>
<polygon points="413.9,646.07 417.8,639.67 410,639.67" fill="#ff00ff"/>
<path d="M182.1 645.95H186.1M182.1 612.47H186.1M182.1 578.99H186.1M182.1 545.51H186.1M182.1 512.02H186.1M182.1 478.54H186.1M183.9 629.21H186.1M183.9 595.73H186.1M183.9 562.25H186.1M183.9 528.76H186.1M183.9 495.28H186.1M183.9 461.8H186.1M186.1 649.3V653.3M239.08 649.3V653.3M292.05 649.3V653.3M345.03 649.3V653.3M398.01 649.3V653.3M212.59 649.3V651.5M265.57 649.3V651.5M318.54 649.3V651.5M371.52 649.3V651.5" stroke="#000" stroke-width="1.5" fill="none"/>
<rect x="186.1" y="461.8" width="233.1" height="187.5" fill="none" stroke="#000" stroke-width="1.4"/>
<text x="180.5" y="650.45" text-anchor="end">0</text>
<text x="180.5" y="616.97" text-anchor="end">10</text>
<text x="180.5" y="583.49" text-anchor="end">20</text>
<text x="180.5" y="550.01" text-anchor="end">30</text>
<text x="180.5" y="516.52" text-anchor="end">40</text>
<text x="180.5" y="483.04" text-anchor="end">50</text>
<text x="186.7" y="667.6" text-anchor="middle">0</text>
<text x="239.68" y="667.6" text-anchor="middle">50</text>
<text x="292.65" y="667.6" text-anchor="middle">100</text>
<text x="345.63" y="667.6" text-anchor="middle">150</text>
<text x="398.61" y="667.6" text-anchor="middle">200</text>
<path d="M192.8 474.8H214.1" stroke="#000000" stroke-width="1.7"/>
<rect x="200.65" y="472.15" width="5.3" height="5.3" fill="#000000"/>
<text x="218.4" y="479.2">ALSM</text>
<path d="M192.8 494.27H214.1" stroke="#ff0000" stroke-width="1.7"/>
<circle cx="203.3" cy="494.27" r="3.1" fill="#ff0000"/>
<text x="218.4" y="498.67">ALSW</text>
<path d="M192.8 513.74H214.1" stroke="#0000ff" stroke-width="1.7"/>
<polygon points="203.3,509.94 207.2,516.34 199.4,516.34" fill="#0000ff"/>
<text x="218.4" y="518.14">ALCW</text>
<path d="M192.8 533.21H214.1" stroke="#ff00ff" stroke-width="1.7"/>
<polygon points="203.3,537.01 207.2,530.61 199.4,530.61" fill="#ff00ff"/>
<text x="218.4" y="537.61">ALCM</text>
<text x="414.5" y="476.9" text-anchor="end">(e)</text>
<text transform="translate(161 559.9) rotate(-90)" text-anchor="middle">Response(Ra/Rg)</text>
<text x="305.5" y="679.5" text-anchor="middle">Operating temperature(<tspan font-family="'Noto Sans CJK SC', sans-serif" font-weight="300">℃</tspan>)</text>
</svg>
</body></html>
